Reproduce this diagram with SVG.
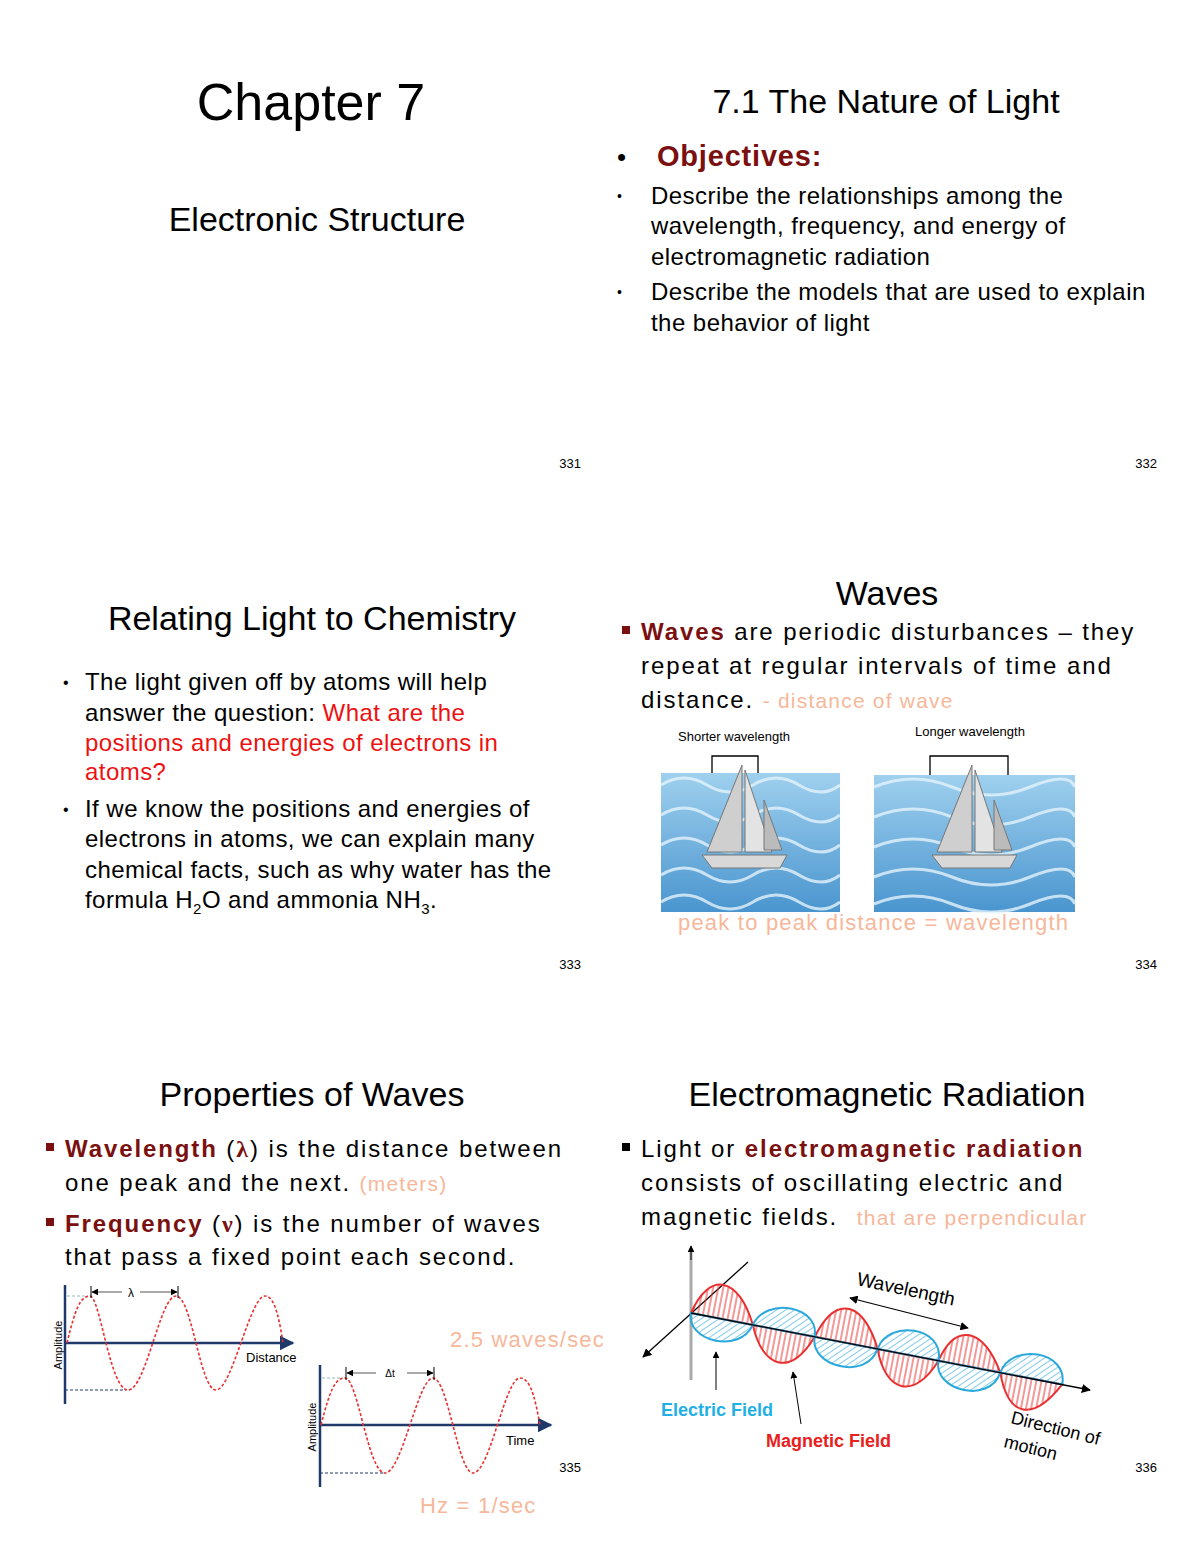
<svg xmlns="http://www.w3.org/2000/svg" width="1200" height="1553" viewBox="0 0 1200 1553">
<defs>
<style>
text{font-family:"Liberation Sans",Arial,sans-serif;fill:#000}
.t{font-size:34px;text-anchor:middle}
.b{font-size:24px;letter-spacing:0.45px}
.m{font-size:24px;letter-spacing:1.9px}
.num{font-size:13px;text-anchor:end}
.dk{fill:#7a1010;font-weight:bold}
.red{fill:#ee1111}
.peach{fill:#f7b79a;letter-spacing:1.2px}
.wave{fill:none;stroke:#e83030;stroke-width:1.6;stroke-dasharray:3 2}
.ax{stroke:#1f3a6a;stroke-width:2.5}
</style>
<marker id="ar" viewBox="0 0 10 10" refX="9" refY="5" markerWidth="7" markerHeight="7" orient="auto-start-reverse"><path d="M0,0L10,5L0,10z" fill="#000"/></marker>
<marker id="arb" viewBox="0 0 10 10" refX="9" refY="5" markerWidth="6" markerHeight="6" orient="auto"><path d="M0,0L10,5L0,10z" fill="#1f3a6a"/></marker>
<pattern id="hr" width="5" height="10" patternUnits="userSpaceOnUse"><line x1="2" y1="0" x2="2" y2="10" stroke="#e83030" stroke-width="1"/></pattern>
<pattern id="hb" width="5" height="5" patternUnits="userSpaceOnUse" patternTransform="rotate(45)"><line x1="0" y1="0" x2="0" y2="5" stroke="#2aa8dc" stroke-width="1.2"/></pattern>
<linearGradient id="sea" x1="0" y1="0" x2="0" y2="1"><stop offset="0" stop-color="#9fd0ee"/><stop offset="1" stop-color="#4a95cf"/></linearGradient>
<g id="boat"><path d="M-40,45 L45,45 L38,58 L-30,58 Z" fill="#d8d8d8" stroke="#777"/><path d="M0,-45 L0,42 L-35,42 Z" fill="#cfcfcf" stroke="#777"/><path d="M3,-40 L3,42 L30,42 Z" fill="#e3e3e3" stroke="#777"/><path d="M22,-10 L22,40 L40,40 Z" fill="#bbb" stroke="#777"/></g>
</defs>

<g id="slide331">
<text x="311" y="120" class="t" style="font-size:52px">Chapter 7</text>
<text x="317" y="231" class="t">Electronic Structure</text>
<text x="581" y="468" class="num">331</text>
</g>

<g id="slide332">
<text x="886" y="113" class="t">7.1 The Nature of Light</text>
<text x="617" y="166" style="font-size:26px">•</text>
<text x="657" y="166" class="dk" style="font-size:29px;letter-spacing:0.8px">Objectives:</text>
<text x="617" y="201" style="font-size:14px">•</text>
<text x="651" y="204" class="b">Describe the relationships among the</text>
<text x="651" y="234" class="b">wavelength, frequency, and energy of</text>
<text x="651" y="265" class="b">electromagnetic radiation</text>
<text x="617" y="297" style="font-size:14px">•</text>
<text x="651" y="300" class="b">Describe the models that are used to explain</text>
<text x="651" y="331" class="b">the behavior of light</text>
<text x="1157" y="468" class="num">332</text>
</g>

<g id="slide333">
<text x="312" y="630" class="t">Relating Light to Chemistry</text>
<text x="63" y="688" style="font-size:16px">•</text>
<text x="85" y="690" class="b">The light given off by atoms will help</text>
<text x="85" y="721" class="b">answer the question: <tspan class="red">What are the</tspan></text>
<text x="85" y="751" class="b red">positions and energies of electrons in</text>
<text x="85" y="780" class="b red">atoms?</text>
<text x="63" y="815" style="font-size:16px">•</text>
<text x="85" y="817" class="b">If we know the positions and energies of</text>
<text x="85" y="847" class="b">electrons in atoms, we can explain many</text>
<text x="85" y="878" class="b">chemical facts, such as why water has the</text>
<text x="85" y="908" class="b">formula H<tspan dy="6" style="font-size:15px">2</tspan><tspan dy="-6">O and ammonia NH</tspan><tspan dy="6" style="font-size:15px">3</tspan><tspan dy="-6">.</tspan></text>
<text x="581" y="969" class="num">333</text>
</g>

<g id="slide334">
<text x="887" y="605" class="t">Waves</text>
<rect x="622" y="626" width="8" height="8" fill="#7a1010"/>
<text x="641" y="640" class="m"><tspan class="dk">Waves</tspan> are periodic disturbances – they</text>
<text x="641" y="674" class="m">repeat at regular intervals of time and</text>
<text x="641" y="708" class="m">distance. <tspan class="peach" style="font-size:21px">- distance of wave</tspan></text>
<text x="678" y="741" style="font-size:13px">Shorter wavelength</text>
<text x="915" y="736" style="font-size:13px">Longer wavelength</text>
<path d="M712,778 V756 H758 V778" fill="none" stroke="#000" stroke-width="1.3"/>
<path d="M930,778 V756 H1008 V778" fill="none" stroke="#000" stroke-width="1.3"/>
<rect x="661" y="773" width="179" height="139" fill="url(#sea)"/>
<rect x="874" y="775" width="201" height="137" fill="url(#sea)"/>
<g fill="none" stroke="#e4f3fc" stroke-width="3" opacity="0.8">
<path d="M661,785 q23,-14 46,0 t46,0 t46,0 t41,0"/><path d="M661,815 q23,-14 46,0 t46,0 t46,0 t41,0"/><path d="M661,845 q23,-14 46,0 t46,0 t46,0 t41,0"/><path d="M661,875 q23,-14 46,0 t46,0 t46,0 t41,0"/><path d="M661,902 q23,-14 46,0 t46,0 t46,0 t41,0"/>
<path d="M874,787 q39,-16 78,0 t78,0 t45,0"/><path d="M874,817 q39,-16 78,0 t78,0 t45,0"/><path d="M874,847 q39,-16 78,0 t78,0 t45,0"/><path d="M874,877 q39,-16 78,0 t78,0 t45,0"/><path d="M874,904 q39,-16 78,0 t78,0 t45,0"/>
</g>
<use href="#boat" x="742" y="810"/>
<use href="#boat" x="972" y="810"/>
<text x="678" y="930" class="peach" style="font-size:22px">peak to peak distance = wavelength</text>
<text x="1157" y="969" class="num">334</text>
</g>

<g id="slide335">
<text x="312" y="1106" class="t">Properties of Waves</text>
<rect x="46" y="1143" width="8" height="8" fill="#7a1010"/>
<text x="65" y="1157" class="m"><tspan class="dk">Wavelength</tspan> (<tspan class="dk" font-family="Liberation Serif,serif">λ</tspan>) is the distance between</text>
<text x="65" y="1191" class="m">one peak and the next. <tspan class="peach" style="font-size:21px">(meters)</tspan></text>
<rect x="46" y="1218" width="8" height="8" fill="#7a1010"/>
<text x="65" y="1232" class="m"><tspan class="dk">Frequency</tspan> (<tspan class="dk" font-family="Liberation Serif,serif">ν</tspan>) is the number of waves</text>
<text x="65" y="1265" class="m">that pass a fixed point each second.</text>
<line x1="65" y1="1285" x2="65" y2="1404" class="ax"/>
<line x1="65" y1="1343" x2="293" y2="1343" class="ax" stroke-width="2" marker-end="url(#arb)"/>
<line x1="65" y1="1390" x2="126" y2="1390" stroke="#1f3a6a" stroke-dasharray="3 2"/>
<line x1="67" y1="1296" x2="88" y2="1296" stroke="#9bb" stroke-dasharray="3 2"/>
<path class="wave" d="M67,1343 C75,1310 80,1296 90,1296 C100,1296 110,1390 128,1390 C146,1390 160,1296 176,1296 C192,1296 200,1390 216,1390 C232,1390 250,1296 265,1296 C276,1296 280,1325 283,1343"/>
<line x1="91" y1="1286" x2="91" y2="1298" stroke="#000"/><line x1="178" y1="1286" x2="178" y2="1298" stroke="#000"/>
<line x1="92" y1="1292" x2="122" y2="1292" stroke="#555" marker-start="url(#ar)"/>
<line x1="140" y1="1292" x2="177" y2="1292" stroke="#555" marker-end="url(#ar)"/>
<text x="131" y="1297" style="font-size:12px;text-anchor:middle">λ</text>
<text x="246" y="1362" style="font-size:13px">Distance</text>
<text transform="translate(62,1345) rotate(-90)" style="font-size:11px;text-anchor:middle">Amplitude</text>
<line x1="320" y1="1365" x2="320" y2="1487" class="ax"/>
<line x1="320" y1="1425" x2="551" y2="1425" class="ax" stroke-width="2" marker-end="url(#arb)"/>
<line x1="320" y1="1473" x2="383" y2="1473" stroke="#1f3a6a" stroke-dasharray="3 2"/>
<line x1="322" y1="1378" x2="343" y2="1378" stroke="#9bb" stroke-dasharray="3 2"/>
<path class="wave" d="M321,1425 C330,1390 335,1378 345,1378 C358,1378 368,1473 385,1473 C402,1473 418,1378 433,1378 C448,1378 458,1473 473,1473 C490,1473 505,1378 520,1378 C532,1378 536,1405 540,1425"/>
<line x1="346" y1="1367" x2="346" y2="1380" stroke="#000"/><line x1="434" y1="1367" x2="434" y2="1380" stroke="#000"/>
<line x1="347" y1="1373" x2="376" y2="1373" stroke="#555" marker-start="url(#ar)"/>
<line x1="407" y1="1373" x2="433" y2="1373" stroke="#555" marker-end="url(#ar)"/>
<text x="390" y="1377" style="font-size:10px;text-anchor:middle">Δt</text>
<text x="506" y="1445" style="font-size:13px">Time</text>
<text transform="translate(316,1427) rotate(-90)" style="font-size:11px;text-anchor:middle">Amplitude</text>
<text x="450" y="1347" class="peach" style="font-size:22px">2.5 waves/sec</text>
<text x="420" y="1513" class="peach" style="font-size:22px">Hz = 1/sec</text>
<text x="581" y="1472" class="num">335</text>
</g>

<g id="slide336">
<text x="887" y="1106" class="t">Electromagnetic Radiation</text>
<rect x="622" y="1143" width="8" height="8" fill="#000"/>
<text x="641" y="1157" class="m">Light or <tspan class="dk">electromagnetic radiation</tspan></text>
<text x="641" y="1191" class="m">consists of oscillating electric and</text>
<text x="641" y="1225" class="m">magnetic fields. <tspan class="peach" style="font-size:21px" dx="10">that are perpendicular</tspan></text>
<line x1="691" y1="1380" x2="691" y2="1248" stroke="#aaa" stroke-width="3"/>
<line x1="691" y1="1260" x2="691" y2="1246" stroke="#000" stroke-width="1" marker-end="url(#ar)"/>
<line x1="748" y1="1262" x2="643" y2="1357" stroke="#000" stroke-width="1.3" marker-end="url(#ar)"/>
<g transform="translate(691,1313) rotate(10.9)">
<path d="M0,0 C10,-45 40,-45 63,0 Z M126,0 C140,-50 170,-40 190,0 Z M252,0 C262,-42 290,-40 315,0 Z" fill="url(#hr)" stroke="#e83030" stroke-width="2"/>
<path d="M63,0 C80,40 110,45 126,0 Z M190,0 C205,40 235,45 252,0 Z M315,0 C330,40 355,45 378,0 Z" fill="url(#hr)" stroke="#e83030" stroke-width="2"/>
<path d="M0,0 C0,28 55,32 63,0 Z M126,0 C126,30 185,34 190,0 Z M252,0 C252,30 310,34 315,0 Z" fill="url(#hb)" stroke="#2aa8dc" stroke-width="2"/>
<path d="M63,0 C70,-30 125,-32 126,0 Z M190,0 C195,-32 252,-34 252,0 Z M315,0 C320,-32 378,-34 378,0 Z" fill="url(#hb)" stroke="#2aa8dc" stroke-width="2"/>
</g>
<line x1="691" y1="1313" x2="1090" y2="1390" stroke="#000" stroke-width="1.3" marker-end="url(#ar)"/>
<line x1="850" y1="1298" x2="968" y2="1328" stroke="#000" stroke-width="1.2" marker-start="url(#ar)" marker-end="url(#ar)"/>
<text transform="translate(856,1285) rotate(12)" style="font-size:19px">Wavelength</text>
<line x1="716" y1="1390" x2="716" y2="1352" stroke="#000" marker-end="url(#ar)"/>
<line x1="801" y1="1424" x2="793" y2="1372" stroke="#000" marker-end="url(#ar)"/>
<text x="661" y="1416" style="font-size:18px;font-weight:bold;fill:#1fb0e6">Electric Field</text>
<text x="766" y="1447" style="font-size:18px;font-weight:bold;fill:#e82020">Magnetic Field</text>
<text transform="translate(1010,1423) rotate(14)" style="font-size:18px">Direction of</text>
<text transform="translate(1003,1447) rotate(14)" style="font-size:18px">motion</text>
<text x="1157" y="1472" class="num">336</text>
</g>
</svg>
